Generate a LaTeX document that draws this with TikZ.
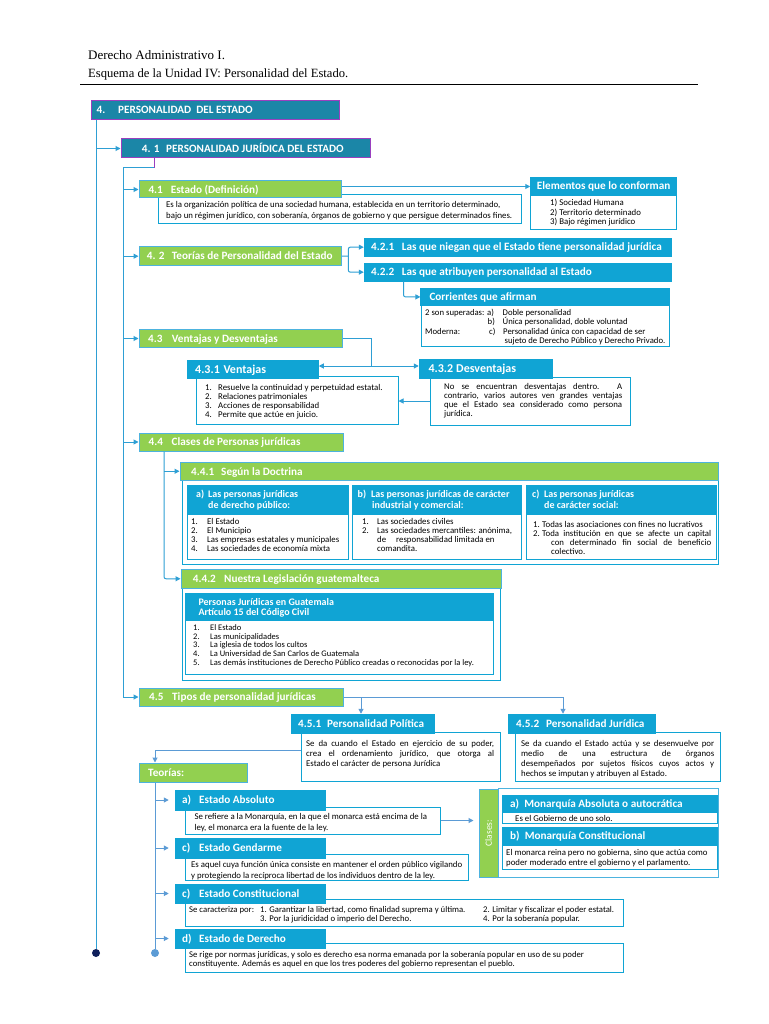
\documentclass[tikz,border=0pt]{standalone}
\usepackage{fontspec}
\setmainfont{Carlito}
\newfontfamily\seriff{Liberation Serif}
\usetikzlibrary{arrows.meta,fit}
\definecolor{tealc}{HTML}{1B86A7}
\definecolor{purpc}{HTML}{9A3FBF}
\definecolor{greenc}{HTML}{92D050}
\definecolor{gbord}{HTML}{4DB3DE}
\definecolor{cyanc}{HTML}{10A4D4}
\definecolor{linec}{HTML}{2E9FD4}
\definecolor{linel}{HTML}{5B9BD5}
\definecolor{navyc}{HTML}{0E1F5B}
\newcounter{tl}
\newcommand\tx[4][]{\stepcounter{tl}\node[txt,#1] (tl\arabic{tl}) at (#2,#3) {#4};}
\newcommand\bx[3]{\node[#1,inner sep=0pt,fit={#3}] (#2) {};}
\newcommand\fT{\fontsize{11.2}{13}\selectfont\bfseries}
\newcommand\fTb{\fontsize{12}{14}\selectfont\bfseries}
\newcommand\fSh{\fontsize{10}{12}\selectfont\bfseries}
\newcommand\fB{\fontsize{8.8}{10}\selectfont}
\newcommand\fBs{\fontsize{8.7}{10}\selectfont}
\newcommand\fS{\fontsize{8.8}{9}\selectfont}
\newcommand\fSl{\fontsize{8.5}{9}\selectfont}
\newcommand\js[2]{\makebox[#1pt][s]{#2}}
\begin{document}
\begin{tikzpicture}[x=1pt,y=-1pt,
 txt/.style={anchor=base west,inner sep=0pt,font=\fB},
 wt/.style={text=white},
 ln/.style={draw=linec,line width=1pt},
 lnl/.style={draw=linel,line width=1pt},
 ar/.style={ln,-{Triangle[length=5pt,width=5pt]}},
 arl/.style={lnl,-{Triangle[length=5pt,width=5pt]}},
 tealbox/.style={draw=purpc,fill=tealc,line width=1pt},
 grbox/.style={draw=gbord,fill=greenc,line width=1pt},
 cyhd/.style={fill=cyanc,draw=cyanc,line width=0.5pt},
 bdy/.style={draw=cyanc,fill=white,line width=1pt},
 bdyl/.style={draw=gbord,fill=white,line width=1pt},
]
\path[use as bounding box,fill=white] (0,0) rectangle (768,1024);

% header
\tx[font=\seriff\fontsize{13}{15}\selectfont]{88}{59.5}{Derecho Administrativo I.}
\tx[font=\seriff\fontsize{12.6}{15}\selectfont]{88}{77.5}{Esquema de la Unidad IV: Personalidad del Estado.}
\coordinate (hl1) at (80,84.5);
\coordinate (hl2) at (698,84.5);
\draw[line width=0.8pt] (hl1) -- (hl2);

% 4 and 4.1
\bx{tealbox}{n4}{(91,101)(339.5,119.5)}
\tx[wt,font=\fT]{96.5}{114}{4.}
\tx[wt,font=\fT]{118}{114}{PERSONALIDAD\ \ DEL ESTADO}
\bx{tealbox}{n41}{(121,139)(370,158)}
\tx[wt,font=\fT]{141.7}{152.2}{4. 1}
\tx[wt,font=\fT]{166}{152.2}{PERSONALIDAD JURÍDICA DEL ESTADO}

\node[circle,fill=navyc,inner sep=0pt,minimum size=8pt] (dot1) at (96,953) {};
\node[circle,fill=linel,inner sep=0pt,minimum size=8pt] (dot2) at (155,953) {};

% 4.1 Estado
\bx{bdy}{d41}{(158,195)(521.7,224)}
\bx{grbox}{g41}{(139,181)(341,198)}
\tx[wt,font=\fT]{148.3}{193.2}{4.1}
\tx[wt,font=\fT]{170.7}{193.2}{Estado (Definición)}
\tx{166}{207.7}{Es la organización política de una sociedad humana, establecida en un territorio determinado,}
\tx{166}{218.7}{bajo un régimen jurídico, con soberanía, órganos de gobierno y que persigue determinados fines.}
\bx{bdy}{eb}{(530.5,195)(676.5,229.3)}
\bx{cyhd}{eh}{(530.5,177.5)(676.5,195.5)}
\tx[wt,font=\fT]{536.7}{190}{Elementos que lo conforman}
\tx{550}{206}{1) Sociedad Humana}
\tx{550}{215.4}{2) Territorio determinado}
\tx{550}{224.4}{3) Bajo régimen jurídico}

% 4.2
\bx{grbox}{g42}{(139,246.7)(341.7,265.7)}
\tx[wt,font=\fT]{146.7}{259.8}{4. 2}
\tx[wt,font=\fT]{171.7}{259.8}{Teorías de Personalidad del Estado}
\bx{cyhd}{b421}{(364,238.3)(671.7,256)}
\tx[wt,font=\fT]{371}{251}{4.2.1}
\tx[wt,font=\fT]{401.7}{251}{Las que niegan que el Estado tiene personalidad jurídica}
\bx{cyhd}{b422}{(364,263.3)(671.7,281)}
\tx[wt,font=\fT]{371}{275.8}{4.2.2}
\tx[wt,font=\fT]{401.7}{275.8}{Las que atribuyen personalidad al Estado}
\bx{bdy}{cb}{(421,305)(669,346)}
\bx{cyhd}{ch}{(420.7,288.3)(669,305.5)}
\tx[wt,font=\fT]{429.3}{300.6}{Corrientes que afirman}
\tx[font=\fBs]{425}{315.7}{2 son superadas:}
\tx[font=\fBs]{487}{315.7}{a)}
\tx[font=\fBs]{502.5}{315.7}{Doble personalidad}
\tx[font=\fBs]{487.5}{324.7}{b)}
\tx[font=\fBs]{502.5}{324.7}{Única personalidad, doble voluntad}
\tx[font=\fBs]{425}{334.5}{Moderna:}
\tx[font=\fBs]{489}{334.5}{c)}
\tx[font=\fBs]{503}{334.5}{Personalidad única con capacidad de ser}
\tx[font=\fBs]{504.5}{343.7}{sujeto de Derecho Público y Derecho Privado.}

% 4.3
\bx{grbox}{g43}{(139,329.3)(342,347.7)}
\tx[wt,font=\fT]{148}{342.1}{4.3}
\tx[wt,font=\fT]{171.7}{342.1}{Ventajas y Desventajas}
\bx{bdy}{b431}{(196,376)(398,424)}
\bx{cyhd}{h431}{(187,360)(318.5,378)}
\tx[wt,font=\fTb]{195}{373.2}{4.3.1}
\tx[wt,font=\fTb]{223.3}{373.2}{Ventajas}
\tx{205}{390.7}{1.}
\tx{218}{390.7}{Resuelve la continuidad y perpetuidad estatal.}
\tx{205}{399.7}{2.}
\tx{218}{399.7}{Relaciones patrimoniales}
\tx{205}{408.7}{3.}
\tx{218}{408.7}{Acciones de responsabilidad}
\tx{205}{417.7}{4.}
\tx{218}{417.7}{Permite que actúe en juicio.}
\bx{bdy}{b432}{(430,377)(630,425)}
\bx{cyhd}{h432}{(419,359)(552,378)}
\tx[wt,font=\fTb]{428.3}{372.6}{4.3.2}
\tx[wt,font=\fTb]{456}{372.6}{Desventajas}
\tx{444}{389.7}{\js{178}{No se encuentran desventajas dentro. A}}
\tx{444}{398.7}{\js{178}{contrario, varios autores ven grandes ventajas}}
\tx{444}{407.7}{\js{178}{que el Estado sea considerado como persona}}
\tx{444}{416.7}{jurídica.}

% 4.4
\bx{grbox}{g44}{(139,433)(343,451)}
\tx[wt,font=\fT]{148.5}{445.6}{4.4}
\tx[wt,font=\fT]{171.5}{445.6}{Clases de Personas jurídicas}
\bx{bdy}{c441}{(182,480)(718,564)}
\bx{grbox}{h441}{(180,462)(718,480.5)}
\tx[wt,font=\fT]{191}{475}{4.4.1}
\tx[wt,font=\fT]{221}{475}{Según la Doctrina}

\bx{bdy}{sab}{(187,513)(348,559)}
\bx{cyhd}{sah}{(187,485)(348,514)}
\tx[wt,font=\fSh]{196}{497.2}{a)}
\tx[wt,font=\fSh]{208}{497.2}{Las personas jurídicas}
\tx[wt,font=\fSh]{208}{508.4}{de derecho público:}
\tx[font=\fS]{191}{524.3}{1.}
\tx[font=\fS]{207}{524.3}{El Estado}
\tx[font=\fS]{191}{533.3}{2.}
\tx[font=\fS]{207}{533.3}{El Municipio}
\tx[font=\fS]{191}{542.3}{3.}
\tx[font=\fS]{207}{542.3}{Las empresas estatales y municipales}
\tx[font=\fS]{191}{551.3}{4.}
\tx[font=\fS]{207}{551.3}{Las sociedades de economía mixta}

\bx{bdy}{sbb}{(352.5,513)(521.5,559)}
\bx{cyhd}{sbh}{(352.5,485)(521.5,514)}
\tx[wt,font=\fSh]{357.5}{497.2}{b)}
\tx[wt,font=\fSh]{371}{497.2}{Las personas jurídicas de carácter}
\tx[wt,font=\fSh]{372}{508.4}{industrial y comercial:}
\tx[font=\fS]{362}{524.3}{1.}
\tx[font=\fS]{377}{524.3}{Las sociedades civiles}
\tx[font=\fS]{362}{533.3}{2.}
\tx[font=\fS]{377}{533.3}{Las sociedades mercantiles: anónima,}
\tx[font=\fS]{377}{542.3}{de\hspace{10pt}responsabilidad limitada en}
\tx[font=\fS]{377}{551.3}{comandita.}

\bx{bdy}{scb}{(526,513)(716,559)}
\bx{cyhd}{sch}{(526,485)(716,514)}
\tx[wt,font=\fSh]{532}{497.2}{c)}
\tx[wt,font=\fSh]{544}{497.2}{Las personas jurídicas}
\tx[wt,font=\fSh]{544}{508.4}{de carácter social:}
\tx[font=\fS]{533}{527.3}{1.}
\tx[font=\fS]{542}{527.3}{Todas las asociaciones con fines no lucrativos}
\tx[font=\fS]{533}{536.3}{2.}
\tx[font=\fS]{542}{536.3}{\js{169}{Toda institución en que se afecte un capital}}
\tx[font=\fS]{551}{545.3}{\js{160}{con determinado fin social de beneficio}}
\tx[font=\fS]{551}{554.3}{colectivo.}

% 4.4.2
\bx{bdy}{c442}{(182,588)(500,680)}
\bx{grbox}{h442}{(181,569.5)(501.7,588)}
\tx[wt,font=\fT]{192.7}{582.3}{4.4.2}
\tx[wt,font=\fT]{224}{582.3}{Nuestra Legislación guatemalteca}
\bx{bdy}{ib442}{(185.5,620)(493.5,674)}
\bx{cyhd}{ih442}{(185.5,593)(493.5,620)}
\tx[wt,font=\fSh]{198.3}{605.5}{Personas Jurídicas en Guatemala}
\tx[wt,font=\fSh]{198.3}{615.5}{Artículo 15 del Código Civil}
\tx[font=\fSl]{193}{630.5}{1.}
\tx[font=\fSl]{210}{630.5}{El Estado}
\tx[font=\fSl]{193}{639.2}{2.}
\tx[font=\fSl]{210}{639.2}{Las municipalidades}
\tx[font=\fSl]{193}{647.9}{3.}
\tx[font=\fSl]{210}{647.9}{La iglesia de todos los cultos}
\tx[font=\fSl]{193}{656.6}{4.}
\tx[font=\fSl]{210}{656.6}{La Universidad de San Carlos de Guatemala}
\tx[font=\fSl]{193}{665.3}{5.}
\tx[font=\fSl]{210}{665.3}{Las demás instituciones de Derecho Público creadas o reconocidas por la ley.}

% 4.5
\bx{grbox}{g45}{(139,688)(343,706)}
\tx[wt,font=\fT]{149}{700.6}{4.5}
\tx[wt,font=\fT]{172}{700.6}{Tipos de personalidad jurídicas}
\bx{bdy}{b451}{(301,732)(500,781)}
\bx{cyhd}{h451}{(291,714)(434,733)}
\tx[wt,font=\fT]{298}{727}{4.5.1}
\tx[wt,font=\fT]{327}{727}{Personalidad Política}
\tx{306}{746.7}{\js{188}{Se da cuando el Estado en ejercicio de su poder,}}
\tx{306}{756.7}{\js{188}{crea el ordenamiento jurídico, que otorga al}}
\tx{306}{766.7}{Estado el carácter de persona Jurídica}
\bx{bdy}{b452}{(515,732)(720,781)}
\bx{cyhd}{h452}{(508,714)(655,733)}
\tx[wt,font=\fT]{516}{727}{4.5.2}
\tx[wt,font=\fT]{546}{727}{Personalidad Jurídica}
\tx{521}{746.7}{\js{193}{Se da cuando el Estado actúa y se desenvuelve por}}
\tx{521}{756.7}{\js{193}{medio de una estructura de órganos}}
\tx{521}{766.7}{\js{193}{desempeñados por sujetos físicos cuyos actos y}}
\tx{521}{776.7}{hechos se imputan y atribuyen al Estado.}

% Teorias
\bx{grbox}{gteo}{(139,763)(247,782)}
\tx[wt,font=\fT]{148}{776.2}{Teorías:}

\bx{bdy}{bA}{(185,807)(440,834)}
\bx{cyhd}{hA}{(175,790)(325,810)}
\tx[wt,font=\fT]{182}{803.6}{a)}
\tx[wt,font=\fT]{199}{803.6}{Estado Absoluto}
\tx{194.3}{819.7}{Se refiere a la Monarquía, en la que el monarca está encima de la}
\tx{194.3}{830.7}{ley, el monarca era la fuente de la ley.}

\bx{bdy}{bB}{(185,854)(468,880)}
\bx{cyhd}{hB}{(175,838)(325,858)}
\tx[wt,font=\fT]{182}{851.6}{c)}
\tx[wt,font=\fT]{199}{851.6}{Estado Gendarme}
\tx{191}{867.7}{Es aquel cuya función única consiste en mantener el orden público vigilando}
\tx{191}{878.3}{y protegiendo la recíproca libertad de los individuos dentro de la ley.}

\bx{bdy}{bC}{(185,899)(623,926)}
\bx{cyhd}{hC}{(175,884)(325,903)}
\tx[wt,font=\fT]{182}{897}{c)}
\tx[wt,font=\fT]{199}{897}{Estado Constitucional}
\tx[font=\fBs]{189}{912.7}{Se caracteriza por:}
\tx[font=\fBs]{260}{912.7}{1. Garantizar la libertad, como finalidad suprema y última.}
\tx[font=\fBs]{483}{912.7}{2. Limitar y fiscalizar el poder estatal.}
\tx[font=\fBs]{260}{921.7}{3. Por la juridicidad o imperio del Derecho.}
\tx[font=\fBs]{483}{921.7}{4. Por la soberanía popular.}

\bx{bdy}{bD}{(185,943)(623,972)}
\bx{cyhd}{hD}{(175,929)(325,948)}
\tx[wt,font=\fT]{182}{942}{d)}
\tx[wt,font=\fT]{199}{942}{Estado de Derecho}
\tx[font=\fBs]{189}{957.7}{Se rige por normas jurídicas, y solo es derecho esa norma emanada por la soberanía popular en uso de su poder}
\tx[font=\fBs]{189}{966.7}{constituyente. Además es aquel en que los tres poderes del gobierno representan el pueblo.}

% Clases
\bx{bdyl}{ccl}{(498,788)(718,877)}
\bx{grbox}{cls}{(479,789)(498,877)}
\node[rotate=90,text=white,font=\fontsize{9.5}{11}\selectfont,inner sep=0pt] (clst) at (cls.center) {Clases:};
\bx{bdy}{cab}{(502,812)(717,823.5)}
\bx{cyhd}{cah}{(502,795)(717,812)}
\tx[wt,font=\fT]{510}{807.3}{a)\ \ Monarquía Absoluta o autocrática}
\tx{515}{821}{Es el Gobierno de uno solo.}
\bx{bdy}{cbb}{(502,845)(717,869)}
\bx{cyhd}{cbh}{(502,827)(717,845)}
\tx[wt,font=\fT]{510}{839.8}{b)\ \ Monarquía Constitucional}
\tx{506}{855.7}{El monarca reina pero no gobierna, sino que actúa como}
\tx{506}{865.7}{poder moderado entre el gobierno y el parlamento.}

% connectors
\draw[ln] (dot1 |- n4.south) -- (dot1.north);
\draw[ar] (dot1 |- n41.west) -- (n41.west);
\coordinate (k1) at (154,168);
\coordinate (v2) at (123,168);
\draw[draw=purpc,line width=1pt] (n41.south -| k1) -- (k1);
\draw[ln] (k1) -- (v2) -- (v2 |- g45.west);
\foreach \g in {g41,g42,g43,g44,g45} \draw[ar] (v2 |- \g.west) -- (\g.west);
\draw[ar] (g41.east |- eh.west) -- (eh.west);
\coordinate (br) at (348.3,256);
\draw[ln] (g42.east) -- (br);
\draw[ar,rounded corners=2pt] (br) |- (b421.west);
\draw[ar,rounded corners=2pt] (br) |- (b422.west);
\coordinate (cc) at (403.5,281);
\draw[ar,rounded corners=2pt] (b422.south -| cc) |- (ch.west);
\coordinate (c43) at (371.5,366);
\draw[ln] (g43.east) -| (c43);
\draw[ar] (c43) -- (c43 -| h431.east);
\draw[ar] (c43) -- (c43 -| h432.west);
\draw[ar] (b432.west) -- (b432.west -| b431.east);
\coordinate (v4) at (164,451);
\draw[ar,rounded corners=2pt] (g44.south -| v4) |- (h442.west);
\draw[ar] (v4 |- h441.west) -- (h441.west);
\coordinate (c45a) at (361,697);
\coordinate (c45b) at (563,697);
\draw[lnl] (g45.east) -- (c45b);
\draw[arl] (c45a) -- (c45a |- h451.north);
\draw[arl] (c45b) -- (c45b |- h452.north);
\coordinate (v5) at (155,750);
\draw[arl] (b451.west |- v5) -| (v5 |- gteo.north);
\draw[lnl] (v5 |- gteo.south) -- (dot2.north);
\foreach \h in {hA,hB,hC,hD} \draw[arl,shorten >=6pt] (v5 |- \h.west) -- (\h.west);
\draw[arl,shorten >=5pt] (bA.east) -- (bA.east -| cls.west);
\end{tikzpicture}
\end{document}
